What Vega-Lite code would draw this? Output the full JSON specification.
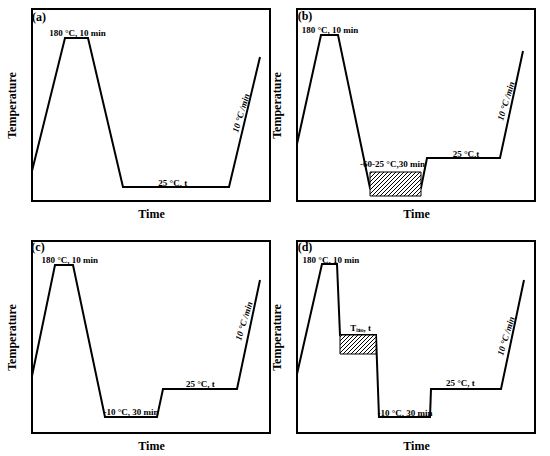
{
  "$schema": "https://vega.github.io/schema/vega-lite/v6.json",
  "padding": {"left": 4, "top": 8, "right": 5, "bottom": 2},
  "config": {
    "view": {"stroke": "black", "strokeWidth": 2},
    "font": "Liberation Serif",
    "axis": {
      "ticks": false,
      "labels": false,
      "domain": false,
      "grid": false,
      "titleFont": "Liberation Serif",
      "titleFontWeight": "bold",
      "titleFontSize": 12,
      "titleColor": "black"
    },
    "axisX": {"titlePadding": 7},
    "axisY": {"titlePadding": 14},
    "line": {"color": "black", "strokeWidth": 2},
    "rect": {"fill": "white", "stroke": "black", "strokeWidth": 1},
    "rule": {"color": "black", "strokeWidth": 1},
    "text": {"font": "Liberation Serif", "fontWeight": "bold", "color": "black"}
  },
  "data": {
    "values": [
      {"kind": "path", "panel": "a", "step": 1, "t": 0, "temp": 30},
      {"kind": "path", "panel": "a", "step": 2, "t": 33, "temp": 163},
      {"kind": "path", "panel": "a", "step": 3, "t": 56, "temp": 163},
      {"kind": "path", "panel": "a", "step": 4, "t": 91, "temp": 14},
      {"kind": "path", "panel": "a", "step": 5, "t": 197, "temp": 14},
      {"kind": "path", "panel": "a", "step": 6, "t": 228, "temp": 144},

      {"kind": "path", "panel": "b", "step": 1, "t": 0, "temp": 57},
      {"kind": "path", "panel": "b", "step": 2, "t": 24, "temp": 166},
      {"kind": "path", "panel": "b", "step": 3, "t": 41, "temp": 166},
      {"kind": "path", "panel": "b", "step": 4, "t": 73, "temp": 13},
      {"kind": "path", "panel": "b", "step": 5, "t": 124, "temp": 13},
      {"kind": "path", "panel": "b", "step": 6, "t": 130, "temp": 43},
      {"kind": "path", "panel": "b", "step": 7, "t": 203, "temp": 43},
      {"kind": "path", "panel": "b", "step": 8, "t": 226, "temp": 150},

      {"kind": "path", "panel": "c", "step": 1, "t": 0, "temp": 57},
      {"kind": "path", "panel": "c", "step": 2, "t": 23, "temp": 168},
      {"kind": "path", "panel": "c", "step": 3, "t": 41, "temp": 168},
      {"kind": "path", "panel": "c", "step": 4, "t": 73, "temp": 16},
      {"kind": "path", "panel": "c", "step": 5, "t": 125, "temp": 16},
      {"kind": "path", "panel": "c", "step": 6, "t": 131, "temp": 44},
      {"kind": "path", "panel": "c", "step": 7, "t": 205, "temp": 44},
      {"kind": "path", "panel": "c", "step": 8, "t": 228, "temp": 153},

      {"kind": "path", "panel": "d", "step": 1, "t": 0, "temp": 59},
      {"kind": "path", "panel": "d", "step": 2, "t": 25, "temp": 169},
      {"kind": "path", "panel": "d", "step": 3, "t": 40, "temp": 169},
      {"kind": "path", "panel": "d", "step": 4, "t": 43, "temp": 98},
      {"kind": "path", "panel": "d", "step": 5, "t": 79, "temp": 98},
      {"kind": "path", "panel": "d", "step": 6, "t": 82, "temp": 16},
      {"kind": "path", "panel": "d", "step": 7, "t": 133, "temp": 16},
      {"kind": "path", "panel": "d", "step": 8, "t": 134, "temp": 44},
      {"kind": "path", "panel": "d", "step": 9, "t": 204, "temp": 44},
      {"kind": "path", "panel": "d", "step": 10, "t": 227, "temp": 153},

      {"kind": "hold", "panel": "b", "t": 73, "t2": 124, "temp": 5, "temp2": 29},
      {"kind": "hold", "panel": "d", "t": 43, "t2": 79, "temp": 79, "temp2": 98},

      {"kind": "hatch", "panel": "b", "t": 73, "temp": 27, "t2": 75, "temp2": 29},
      {"kind": "hatch", "panel": "b", "t": 73, "temp": 23, "t2": 79, "temp2": 29},
      {"kind": "hatch", "panel": "b", "t": 73, "temp": 19, "t2": 83, "temp2": 29},
      {"kind": "hatch", "panel": "b", "t": 73, "temp": 15, "t2": 87, "temp2": 29},
      {"kind": "hatch", "panel": "b", "t": 73, "temp": 11, "t2": 91, "temp2": 29},
      {"kind": "hatch", "panel": "b", "t": 73, "temp": 7, "t2": 95, "temp2": 29},
      {"kind": "hatch", "panel": "b", "t": 75, "temp": 5, "t2": 99, "temp2": 29},
      {"kind": "hatch", "panel": "b", "t": 79, "temp": 5, "t2": 103, "temp2": 29},
      {"kind": "hatch", "panel": "b", "t": 83, "temp": 5, "t2": 107, "temp2": 29},
      {"kind": "hatch", "panel": "b", "t": 87, "temp": 5, "t2": 111, "temp2": 29},
      {"kind": "hatch", "panel": "b", "t": 91, "temp": 5, "t2": 115, "temp2": 29},
      {"kind": "hatch", "panel": "b", "t": 95, "temp": 5, "t2": 119, "temp2": 29},
      {"kind": "hatch", "panel": "b", "t": 99, "temp": 5, "t2": 123, "temp2": 29},
      {"kind": "hatch", "panel": "b", "t": 103, "temp": 5, "t2": 124, "temp2": 26},
      {"kind": "hatch", "panel": "b", "t": 107, "temp": 5, "t2": 124, "temp2": 22},
      {"kind": "hatch", "panel": "b", "t": 111, "temp": 5, "t2": 124, "temp2": 18},
      {"kind": "hatch", "panel": "b", "t": 115, "temp": 5, "t2": 124, "temp2": 14},
      {"kind": "hatch", "panel": "b", "t": 119, "temp": 5, "t2": 124, "temp2": 10},

      {"kind": "hatch", "panel": "d", "t": 43, "temp": 96, "t2": 45, "temp2": 98},
      {"kind": "hatch", "panel": "d", "t": 43, "temp": 92, "t2": 49, "temp2": 98},
      {"kind": "hatch", "panel": "d", "t": 43, "temp": 88, "t2": 53, "temp2": 98},
      {"kind": "hatch", "panel": "d", "t": 43, "temp": 84, "t2": 57, "temp2": 98},
      {"kind": "hatch", "panel": "d", "t": 43, "temp": 80, "t2": 61, "temp2": 98},
      {"kind": "hatch", "panel": "d", "t": 46, "temp": 79, "t2": 65, "temp2": 98},
      {"kind": "hatch", "panel": "d", "t": 50, "temp": 79, "t2": 69, "temp2": 98},
      {"kind": "hatch", "panel": "d", "t": 54, "temp": 79, "t2": 73, "temp2": 98},
      {"kind": "hatch", "panel": "d", "t": 58, "temp": 79, "t2": 77, "temp2": 98},
      {"kind": "hatch", "panel": "d", "t": 62, "temp": 79, "t2": 79, "temp2": 96},
      {"kind": "hatch", "panel": "d", "t": 66, "temp": 79, "t2": 79, "temp2": 92},
      {"kind": "hatch", "panel": "d", "t": 70, "temp": 79, "t2": 79, "temp2": 88},
      {"kind": "hatch", "panel": "d", "t": 74, "temp": 79, "t2": 79, "temp2": 84},

      {"kind": "tag", "panel": "a", "t": 7, "temp": 184, "label": "(a)"},
      {"kind": "tag", "panel": "b", "t": 8, "temp": 185, "label": "(b)"},
      {"kind": "tag", "panel": "c", "t": 6, "temp": 186, "label": "(c)"},
      {"kind": "tag", "panel": "d", "t": 8, "temp": 186, "label": "(d)"},

      {"kind": "note", "panel": "a", "t": 45.5, "temp": 168, "label": "180 °C, 10 min"},
      {"kind": "note", "panel": "a", "t": 140.7, "temp": 18.3, "label": "25 °C, t"},
      {"kind": "note", "panel": "b", "t": 33, "temp": 170.7, "label": "180 °C, 10 min"},
      {"kind": "note", "panel": "b", "t": 95.5, "temp": 36.7, "label": "-60-25 °C,30 min"},
      {"kind": "note", "panel": "b", "t": 169, "temp": 47, "label": "25 °C,t"},
      {"kind": "note", "panel": "c", "t": 37.7, "temp": 173.3, "label": "180 °C, 10 min"},
      {"kind": "note", "panel": "c", "t": 99, "temp": 21.3, "label": "-10 °C, 30 min"},
      {"kind": "note", "panel": "c", "t": 168.3, "temp": 49, "label": "25 °C, t"},
      {"kind": "note", "panel": "d", "t": 33.9, "temp": 173, "label": "180 °C, 10 min"},
      {"kind": "note", "panel": "d", "t": 63.7, "temp": 105, "label": "Tᵢₛₒ, t"},
      {"kind": "note", "panel": "d", "t": 108, "temp": 20, "label": "-10 °C, 30 min"},
      {"kind": "note", "panel": "d", "t": 163.3, "temp": 50, "label": "25 °C, t"},

      {"kind": "rate", "panel": "a", "t": 209, "temp": 88, "label": "10 °C /min"},
      {"kind": "rate", "panel": "b", "t": 209, "temp": 100, "label": "10 °C /min"},
      {"kind": "rate", "panel": "c", "t": 212, "temp": 112, "label": "10 °C /min"},
      {"kind": "rate", "panel": "d", "t": 209, "temp": 97, "label": "10 °C /min"}
    ]
  },
  "spacing": 20,
  "vconcat": [
    {
      "spacing": -2,
      "hconcat": [
        {
          "width": 238,
          "height": 192,
          "transform": [{"filter": "datum.panel == 'a'"}],
          "encoding": {
            "x": {"field": "t", "type": "quantitative", "scale": {"domain": [0, 238], "nice": false, "zero": false}, "axis": {"title": "Time"}},
            "y": {"field": "temp", "type": "quantitative", "scale": {"domain": [0, 192], "nice": false, "zero": false}, "axis": {"title": "Temperature"}}
          },
          "layer": [
            {"transform": [{"filter": "datum.kind == 'path'"}], "mark": "line", "encoding": {"order": {"field": "step", "type": "quantitative"}}},
            {"transform": [{"filter": "datum.kind == 'tag'"}], "mark": {"type": "text", "fontSize": 12}, "encoding": {"text": {"field": "label"}}},
            {"transform": [{"filter": "datum.kind == 'note'"}], "mark": {"type": "text", "fontSize": 9}, "encoding": {"text": {"field": "label"}}},
            {"transform": [{"filter": "datum.kind == 'rate'"}], "mark": {"type": "text", "fontSize": 9, "fontStyle": "italic", "angle": -73}, "encoding": {"text": {"field": "label"}}}
          ]
        },
        {
          "width": 238,
          "height": 192,
          "transform": [{"filter": "datum.panel == 'b'"}],
          "encoding": {
            "x": {"field": "t", "type": "quantitative", "scale": {"domain": [0, 238], "nice": false, "zero": false}, "axis": {"title": "Time"}},
            "y": {"field": "temp", "type": "quantitative", "scale": {"domain": [0, 192], "nice": false, "zero": false}, "axis": {"title": "Temperature"}}
          },
          "layer": [
            {"transform": [{"filter": "datum.kind == 'path'"}], "mark": "line", "encoding": {"order": {"field": "step", "type": "quantitative"}}},
            {"transform": [{"filter": "datum.kind == 'hold'"}], "mark": "rect", "encoding": {"x2": {"field": "t2"}, "y2": {"field": "temp2"}}},
            {"transform": [{"filter": "datum.kind == 'hatch'"}], "mark": "rule", "encoding": {"x2": {"field": "t2"}, "y2": {"field": "temp2"}}},
            {"transform": [{"filter": "datum.kind == 'tag'"}], "mark": {"type": "text", "fontSize": 12}, "encoding": {"text": {"field": "label"}}},
            {"transform": [{"filter": "datum.kind == 'note'"}], "mark": {"type": "text", "fontSize": 9}, "encoding": {"text": {"field": "label"}}},
            {"transform": [{"filter": "datum.kind == 'rate'"}], "mark": {"type": "text", "fontSize": 9, "fontStyle": "italic", "angle": -73}, "encoding": {"text": {"field": "label"}}}
          ]
        }
      ]
    },
    {
      "spacing": -2,
      "hconcat": [
        {
          "width": 238,
          "height": 192,
          "transform": [{"filter": "datum.panel == 'c'"}],
          "encoding": {
            "x": {"field": "t", "type": "quantitative", "scale": {"domain": [0, 238], "nice": false, "zero": false}, "axis": {"title": "Time"}},
            "y": {"field": "temp", "type": "quantitative", "scale": {"domain": [0, 192], "nice": false, "zero": false}, "axis": {"title": "Temperature"}}
          },
          "layer": [
            {"transform": [{"filter": "datum.kind == 'path'"}], "mark": "line", "encoding": {"order": {"field": "step", "type": "quantitative"}}},
            {"transform": [{"filter": "datum.kind == 'tag'"}], "mark": {"type": "text", "fontSize": 12}, "encoding": {"text": {"field": "label"}}},
            {"transform": [{"filter": "datum.kind == 'note'"}], "mark": {"type": "text", "fontSize": 9}, "encoding": {"text": {"field": "label"}}},
            {"transform": [{"filter": "datum.kind == 'rate'"}], "mark": {"type": "text", "fontSize": 9, "fontStyle": "italic", "angle": -73}, "encoding": {"text": {"field": "label"}}}
          ]
        },
        {
          "width": 238,
          "height": 192,
          "transform": [{"filter": "datum.panel == 'd'"}],
          "encoding": {
            "x": {"field": "t", "type": "quantitative", "scale": {"domain": [0, 238], "nice": false, "zero": false}, "axis": {"title": "Time"}},
            "y": {"field": "temp", "type": "quantitative", "scale": {"domain": [0, 192], "nice": false, "zero": false}, "axis": {"title": "Temperature"}}
          },
          "layer": [
            {"transform": [{"filter": "datum.kind == 'path'"}], "mark": "line", "encoding": {"order": {"field": "step", "type": "quantitative"}}},
            {"transform": [{"filter": "datum.kind == 'hold'"}], "mark": "rect", "encoding": {"x2": {"field": "t2"}, "y2": {"field": "temp2"}}},
            {"transform": [{"filter": "datum.kind == 'hatch'"}], "mark": "rule", "encoding": {"x2": {"field": "t2"}, "y2": {"field": "temp2"}}},
            {"transform": [{"filter": "datum.kind == 'tag'"}], "mark": {"type": "text", "fontSize": 12}, "encoding": {"text": {"field": "label"}}},
            {"transform": [{"filter": "datum.kind == 'note'"}], "mark": {"type": "text", "fontSize": 9}, "encoding": {"text": {"field": "label"}}},
            {"transform": [{"filter": "datum.kind == 'rate'"}], "mark": {"type": "text", "fontSize": 9, "fontStyle": "italic", "angle": -73}, "encoding": {"text": {"field": "label"}}}
          ]
        }
      ]
    }
  ]
}
